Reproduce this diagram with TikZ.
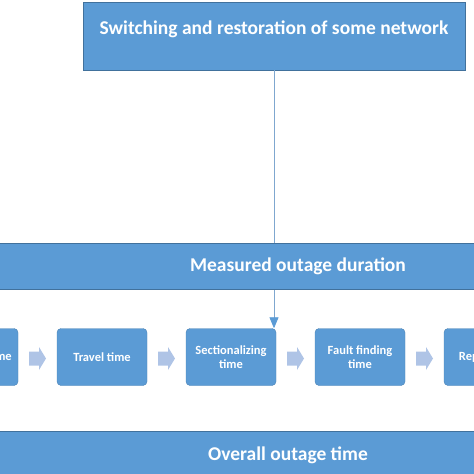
\documentclass[tikz,border=0pt]{standalone}
\usepackage{fontspec}
\setmainfont{Carlito}
\usepackage{xcolor}
\usetikzlibrary{arrows.meta}
\definecolor{boxblue}{HTML}{5B9BD5}
\definecolor{boxline}{HTML}{41719C}
\definecolor{steparrow}{HTML}{AFC4E6}
\definecolor{linkline}{HTML}{7FA7CF}

\begin{document}
\begin{tikzpicture}[x=1pt,y=-1pt,
	band/.style={fill=boxblue,draw=boxline,line width=0.8pt,text=white,font=\fontsize{19.5}{22}\selectfont\bfseries,minimum width=720pt,inner sep=0pt},
	stage/.style={fill=boxblue,draw=boxblue!85!black,rounded corners=4pt,text=white,font=\fontsize{12.5}{14}\selectfont\bfseries,minimum width=90pt,minimum height=57pt,align=center,inner sep=0pt}]
		\useasboundingbox (0,0) rectangle (474,474);
		\clip (0,0) rectangle (474,474);
		%
		\node[band,minimum width=382pt,text height=32pt,text depth=36pt] (S) at (274,36) {Switching and restoration of some network};
		%
		\node[stage] (R1) at (-27,357) {Reporting time};
		\node[stage] (R2) at (102,357) {Travel time};
		\node[stage] (R3) at (231,357) {Sectionalizing\\time};
		\node[stage] (R4) at (360,357) {Fault finding\\time};
		\node[stage] (R5) at (489,357) {Repair time};
		%
		\foreach \x in {37.5,166.5,295.5,424.5}
		\fill[steparrow,shift={(\x,358.5)}] (-8.5,-7) -- (1.5,-7) -- (1.5,-11.5) -- (8.5,0) -- (1.5,11.5) -- (1.5,7) -- (-8.5,7) -- cycle;
		%
		\draw[linkline,line width=0.8pt,-{Triangle[width=9pt,length=11pt,color=boxblue]}] (S.south) -- (S.south |- R3.north);
		%
		\node[band,minimum height=46pt] (M) at (298,266) {Measured outage duration};
		\node[band,minimum height=48pt] (O) at (288,455) {Overall outage time};
		\end{tikzpicture}
\end{document}
